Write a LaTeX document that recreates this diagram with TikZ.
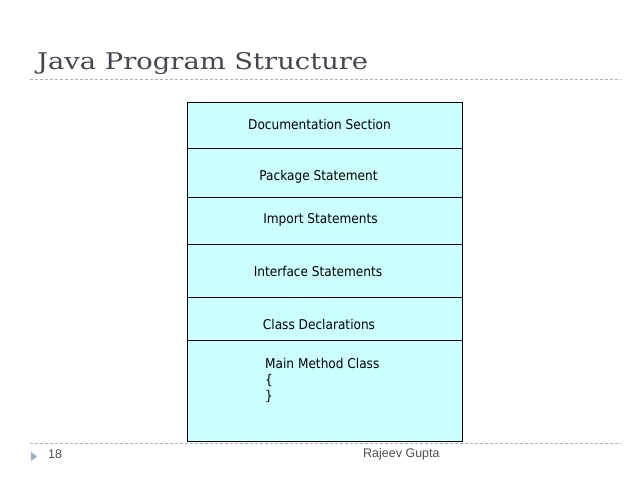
\documentclass[tikz,border=0pt]{standalone}
\usepackage{fontspec}
\usetikzlibrary{positioning}
\setmainfont{DejaVu Sans Condensed}
\newfontfamily\titlefont[FakeStretch=1.19]{DejaVu Serif}
\newfontfamily\footfont{Liberation Sans}
\definecolor{bandfill}{RGB}{204,255,255}
\definecolor{titlegray}{RGB}{70,70,78}
\definecolor{rulegray}{RGB}{165,180,195}
\definecolor{footgray}{RGB}{80,80,80}
\definecolor{marker}{RGB}{150,175,200}
\tikzset{
  band/.style={draw=black, fill=bandfill, line width=0.9pt},
  label/.style={inner sep=0pt, anchor=base, font=\fontsize{13.5}{16}\selectfont},
  rule/.style={draw=rulegray, line width=0.8pt, dash pattern=on 3pt off 2pt},
  foot/.style={inner sep=0pt, anchor=base west, text=footgray, font=\footfont\fontsize{12.5}{14}\selectfont}
}
\begin{document}
\begin{tikzpicture}[x=1pt, y=-1pt]
    \useasboundingbox (0,0) rectangle (638,479);
    \fill[white] (0,0) rectangle (638,479);
    % title and rules
    \node[inner sep=0pt, anchor=base west, text=titlegray,
          font=\titlefont\fontsize{23}{26}\selectfont] (title) at (37,69) {Java Program Structure};
    \coordinate (r1a) at (30,79);  \coordinate (r1b) at (621,79);
    \coordinate (r2a) at (30,443); \coordinate (r2b) at (621,443);
    \draw[rule] (r1a) -- (r1b);
    \draw[rule] (r2a) -- (r2b);
    % stacked sections
    \foreach \ya/\yb in {102/148, 148/197, 197/244, 244/297, 297/340, 340/441}
    {
        \draw[band] (187,\ya) rectangle (462,\yb);
    }
    \node[label] (doc)  at (319.5,129) {Documentation Section};
    \node[label] (pkg)  at (318.5,180) {Package Statement};
    \node[label] (imp)  at (320.5,223) {Import Statements};
    \node[label] (intf) at (318,276)   {Interface Statements};
    \node[label] (cls)  at (319,329)   {Class Declarations};
    % base anchor sits on the last line here
    \node[label, anchor=base west, align=left,
          font=\fontsize{13.5}{16}\selectfont] (mainc) at (265,400) {Main Method Class\\\{\\\}};
    % footer
    \fill[marker] (31,452) -- (37,456.5) -- (31,461) -- cycle;
    \node[foot] (page)   at (48,458)  {18};
    \node[foot] (author) at (363,457) {Rajeev Gupta};
\end{tikzpicture}
\end{document}
